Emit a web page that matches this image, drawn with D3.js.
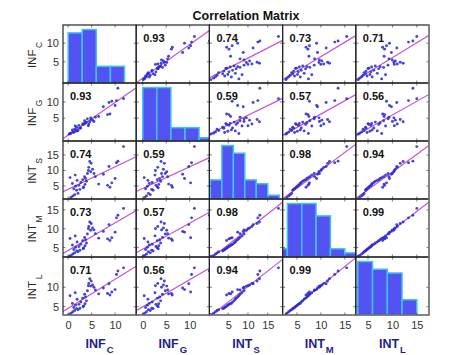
<!DOCTYPE html>
<html><head><meta charset="utf-8">
<script src="https://cdn.jsdelivr.net/npm/d3@7"></script>
<style>body{margin:0;background:#fff} svg{display:block}</style>
</head><body><svg id="c" width="474" height="355"></svg>
<script>
const varNames = ["INF", "INF", "INT", "INT", "INT"];
const varSubs  = ["C", "G", "S", "M", "L"];

const INF_C = [10.6,11.8,10.3,10.0,9.3,8.7,7.5,8.9,8.4,6.5, 4.6,4.9,4.4,5.2,4.8,5.5,4.3,5.8,
  0.2,0.6,1.0,1.4,2.1,1.8,2.5,1.2,3.2,3.3,1.6,2.3,3.6,0.9,2.7,3.9,1.9,3.1,3.7,0.4,3.5,1.5,4.1];
const INF_G = [14.2,11.0,10.4,8.9,10.2,9.8,8.5,6.3,6.1,5.5, 3.9,4.6,3.2,4.4,5.1,4.0,2.7,5.3,
  0.1,0.4,0.8,1.6,1.2,2.2,1.9,0.6,3.3,3.1,1.0,2.8,3.4,1.4,2.0,3.8,1.1,3.1,3.6,0.3,4.2,2.6,4.8];
const INT_S = [13.0,17.7,12.5,7.4,6.0,11.3,8.8,4.6,5.2,5.6, 12.9,12.3,11.0,10.4,9.6,9.0,10.0,8.0,
  0.6,1.3,1.8,2.2,2.6,3.6,3.9,4.1,4.4,4.7,4.9,5.2,5.5,5.8,6.1,6.5,6.8,7.0,7.4,7.7,8.0,8.5,9.0];
const INT_M = [13.6,15.4,12.9,9.1,7.6,11.1,9.3,6.9,7.3,7.5, 11.8,11.4,10.6,10.2,9.6,9.7,10.0,8.7,
  2.7,2.9,3.3,3.6,3.9,4.1,4.3,4.5,4.7,4.9,5.1,5.3,5.5,5.7,5.9,6.2,6.5,6.8,7.1,7.4,7.7,8.1,8.6];
const INT_L = [14.2,15.0,13.3,9.4,8.8,10.9,9.8,8.0,8.4,8.3, 12.2,11.6,11.0,10.6,10.3,10.0,10.4,9.3,
  3.0,3.3,3.7,4.0,4.2,4.5,4.6,4.8,5.0,5.2,5.4,5.6,5.75,5.85,6.2,6.5,6.9,7.2,7.5,7.8,8.2,8.6,9.1];

const corrValues = [
  [1.00, 0.93, 0.74, 0.73, 0.71],
  [0.93, 1.00, 0.59, 0.57, 0.56],
  [0.74, 0.59, 1.00, 0.98, 0.94],
  [0.73, 0.57, 0.98, 1.00, 0.99],
  [0.71, 0.56, 0.94, 0.99, 1.00]
];

// histogram bins (edges) and counts
const histEdgesC = [0, 3, 6, 9, 12];            const histCountsC = [15, 16, 5, 5];
const histEdgesG = [0, 3, 6, 9, 12, 15];        const histCountsG = [16, 16, 4, 4, 1];
const histEdgesS = [0.5, 3.4, 6.3, 9.2, 12.1, 15.0, 17.9]; const histCountsS = [5, 14, 12, 5, 4, 1];
const histEdgesM = [0, 3, 6, 9, 12, 15, 18];    const histCountsM = [2, 13, 13, 10, 2, 1];
const histEdgesL = [2.9, 5.93, 8.96, 11.98, 15.01]; const histCountsL = [14, 12, 11, 4];

// axis limits and ticks
const xDomainC = [-1.1, 14.5], xDomainG = [-1.4, 14.2], xDomainS = [0.25, 18.75], xDomainM = [2.0, 17.3], xDomainL = [2.5, 17.5];
const yDomainC = [-0.7, 14.9], yDomainG = [-2.0, 15.8], yDomainS = [0.8, 19.5], yDomainM = [2.5, 17.9], yDomainL = [2.86, 17.8];
const xTickLabelsC = [0, 5, 10], xTickLabelsG = [0, 5, 10], xTickLabelsS = [5, 10, 15], xTickLabelsM = [5, 10, 15], xTickLabelsL = [5, 10, 15];
const yTickLabelsC = [5, 10], yTickLabelsG = [5, 10], yTickLabelsS = [5, 10, 15], yTickLabelsM = [5, 10, 15], yTickLabelsL = [5, 10];

// ---- assemble ----
const data = [INF_C, INF_G, INT_S, INT_M, INT_L];
const histEdges = [histEdgesC, histEdgesG, histEdgesS, histEdgesM, histEdgesL];
const histCounts = [histCountsC, histCountsG, histCountsS, histCountsM, histCountsL];
const xDomains = [xDomainC, xDomainG, xDomainS, xDomainM, xDomainL];
const yDomains = [yDomainC, yDomainG, yDomainS, yDomainM, yDomainL];
const xTickLabels = [xTickLabelsC, xTickLabelsG, xTickLabelsS, xTickLabelsM, xTickLabelsL];
const yTickLabels = [yTickLabelsC, yTickLabelsG, yTickLabelsS, yTickLabelsM, yTickLabelsL];

const n = 5;
const gLeft = 63, gTop = 25, cw = 73.2, ch = 58;
const FONT = "'Liberation Sans', Arial, Helvetica, sans-serif";

const svg = d3.select("#c");
const defs = svg.append("defs");

const xScales = xDomains.map((d, j) => d3.scaleLinear().domain(d).range([gLeft + j * cw, gLeft + (j + 1) * cw]));
const yScales = yDomains.map((d, i) => d3.scaleLinear().domain(d).range([gTop + (i + 1) * ch, gTop + i * ch]));

function fit(xs, ys) {
  const mx = d3.mean(xs), my = d3.mean(ys);
  let sxy = 0, sxx = 0;
  xs.forEach((x, k) => { sxy += (x - mx) * (ys[k] - my); sxx += (x - mx) * (x - mx); });
  const b = sxy / sxx;
  return { a: my - b * mx, b };
}

for (let i = 0; i < n; i++) {
  for (let j = 0; j < n; j++) {
    const x0 = gLeft + j * cw, y0 = gTop + i * ch;
    const id = `clip-${i}-${j}`;
    defs.append("clipPath").attr("id", id).append("rect")
      .attr("x", x0).attr("y", y0).attr("width", cw).attr("height", ch);
    const g = svg.append("g");
    const inner = g.append("g").attr("clip-path", `url(#${id})`);
    const xs = xScales[j];

    if (i === j) {
      const counts = histCounts[i], edges = histEdges[i];
      const hy = d3.scaleLinear().domain([0, d3.max(counts) * 1.085]).range([y0 + ch, y0]);
      inner.selectAll("rect.bar").data(counts).join("rect")
        .attr("class", "bar")
        .attr("x", (c, k) => xs(edges[k]))
        .attr("width", (c, k) => xs(edges[k + 1]) - xs(edges[k]))
        .attr("y", c => hy(c))
        .attr("height", c => hy(0) - hy(c))
        .attr("fill", "#5353f3")
        .attr("stroke", "#3fc3f3")
        .attr("stroke-width", 1.5);
    } else {
      const ys = yScales[i];
      const X = data[j], Y = data[i];
      const f = fit(X, Y);
      const dom = xs.domain();
      inner.append("line")
        .attr("x1", xs(dom[0])).attr("y1", ys(f.a + f.b * dom[0]))
        .attr("x2", xs(dom[1])).attr("y2", ys(f.a + f.b * dom[1]))
        .attr("stroke", "#c555d5").attr("stroke-width", 1.2);
      inner.selectAll("circle").data(X).join("circle")
        .attr("cx", (d) => xs(d))
        .attr("cy", (d, k) => ys(Y[k]))
        .attr("r", 1.45)
        .attr("fill", "#2b2bd0")
        .attr("fill-opacity", 0.88);
      g.append("text")
        .attr("x", x0 + 7).attr("y", y0 + 17)
        .style("font", `bold 11px ${FONT}`)
        .attr("fill", "#111")
        .text(d3.format(".2f")(corrValues[i][j]));
    }

    // inward tick marks on all four sides
    const ysT = yScales[i];
    const yt = yTickLabels[i];
    const xt = xTickLabels[j];
    const tk = g.append("g").attr("stroke", "#555").attr("stroke-width", 0.8);
    xt.forEach(v => {
      const px = xs(v);
      if (px <= x0 + 1 || px >= x0 + cw - 1) return;
      tk.append("line").attr("x1", px).attr("x2", px).attr("y1", y0 + ch).attr("y2", y0 + ch - 2.5);
      tk.append("line").attr("x1", px).attr("x2", px).attr("y1", y0).attr("y2", y0 + 2.5);
    });
    yt.forEach(v => {
      const py = ysT(v);
      if (py <= y0 + 1 || py >= y0 + ch - 1) return;
      tk.append("line").attr("y1", py).attr("y2", py).attr("x1", x0).attr("x2", x0 + 2.5);
      tk.append("line").attr("y1", py).attr("y2", py).attr("x1", x0 + cw).attr("x2", x0 + cw - 2.5);
    });
  }
}

// cell borders
for (let i = 0; i < n; i++) {
  for (let j = 0; j < n; j++) {
    svg.append("rect")
      .attr("x", gLeft + j * cw).attr("y", gTop + i * ch)
      .attr("width", cw).attr("height", ch)
      .attr("fill", "none").attr("stroke", "#262626").attr("stroke-width", 1.2);
  }
}
// lighter outer right / bottom edge
svg.append("line").attr("x1", gLeft + n * cw).attr("x2", gLeft + n * cw).attr("y1", gTop).attr("y2", gTop + n * ch)
  .attr("stroke", "#8a8a8a").attr("stroke-width", 1.2);
svg.append("line").attr("x1", gLeft).attr("x2", gLeft + n * cw).attr("y1", gTop + n * ch).attr("y2", gTop + n * ch)
  .attr("stroke", "#8a8a8a").attr("stroke-width", 1.2);

// y tick labels (left column)
for (let i = 0; i < n; i++) {
  const ax = d3.axisLeft(yScales[i]).tickValues(yTickLabels[i]).tickSize(0).tickPadding(4);
  const ga = svg.append("g").attr("transform", `translate(${gLeft},0)`).call(ax);
  ga.select(".domain").remove();
  ga.selectAll("text").style("font", `11px ${FONT}`).attr("fill", "#333");
}
// x tick labels (bottom row)
for (let j = 0; j < n; j++) {
  const ax = d3.axisBottom(xScales[j]).tickValues(xTickLabels[j]).tickSize(0).tickPadding(6);
  const ga = svg.append("g").attr("transform", `translate(0,${gTop + n * ch})`).call(ax);
  ga.select(".domain").remove();
  ga.selectAll("text").style("font", `11px ${FONT}`).attr("fill", "#333");
}

// y variable labels
for (let i = 0; i < n; i++) {
  const t = svg.append("text")
    .attr("transform", `translate(35.5,${gTop + i * ch + ch / 2 + 1}) rotate(-90)`)
    .attr("text-anchor", "middle")
    .attr("fill", "#262626")
    .style("font-family", FONT);
  t.append("tspan").style("font-size", "11.5px").text(varNames[i]);
  t.append("tspan").style("font-size", "8.5px").attr("dx", 1.5).attr("dy", 6).text(varSubs[i]);
}
// x variable labels
for (let j = 0; j < n; j++) {
  const t = svg.append("text")
    .attr("x", gLeft + j * cw + cw / 2).attr("y", 348)
    .attr("text-anchor", "middle")
    .attr("fill", "#1e1e88")
    .style("font-family", FONT).style("font-weight", "bold");
  t.append("tspan").style("font-size", "12.5px").text(varNames[j]);
  t.append("tspan").style("font-size", "9.5px").attr("dx", 1).attr("dy", 5).text(varSubs[j]);
}

// title
svg.append("text")
  .attr("x", gLeft + n * cw / 2).attr("y", 20)
  .attr("text-anchor", "middle")
  .style("font", `bold 12.5px ${FONT}`)
  .attr("fill", "#111")
  .text("Correlation Matrix");
</script>
</body></html>
